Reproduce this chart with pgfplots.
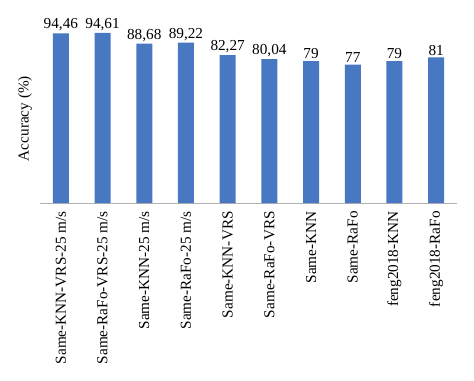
\documentclass[border=0pt]{standalone}
\usepackage{pgfplots}
\pgfplotsset{compat=1.18}
\usepackage{pgfplotstable}
\usepackage{fontspec}
\setmainfont{Liberation Serif}
\definecolor{barblue}{HTML}{4878C2}
\pgfplotstableread{
x y lab
0 94.46 94,46
1 94.61 94,61
2 88.68 88,68
3 89.22 89,22
4 82.27 82,27
5 80.04 80,04
6 79 79
7 77 77
8 79 79
9 81 81
}\datatable
\begin{document}
\begin{tikzpicture}
\begin{axis}[
  at={(0,0)}, anchor=south west,
  scale only axis,
  width=417bp, height=179.7bp,
  xmin=-0.5, xmax=9.5,
  ymin=0, ymax=100,
  axis x line=bottom, axis y line=left,
  x axis line style={draw=black!30, line width=0.8pt, -},
  y axis line style={draw=none},
  ytick=\empty,
  xtick=data,
  xtick style={draw=none},
  xticklabels={Same-KNN-VRS-25 m/s,Same-RaFo-VRS-25 m/s,Same-KNN-25 m/s,Same-RaFo-25 m/s,Same-KNN-VRS,Same-RaFo-VRS,Same-KNN,Same-RaFo,feng2018-KNN,feng2018-RaFo},
  xticklabel style={rotate=90, anchor=east, font=\fontsize{15.3}{17}\selectfont, inner sep=0pt, xshift=-6bp},
  ylabel={Accuracy (\%)},
  ylabel style={at={(axis description cs:-0.036,0.47)}, anchor=center, font=\fontsize{15.3}{17}\selectfont},
  nodes near coords,
  point meta=explicit symbolic,
  every node near coord/.append style={font=\fontsize{15.3}{17}\selectfont, anchor=south, inner sep=2pt},
  clip=false,
]
\addplot[ybar, bar width=16bp, fill=barblue, draw=none] table[x=x, y=y, meta=lab]{\datatable};
\end{axis}
\path[use as bounding box] (-40bp,-178bp) rectangle (434bp,203bp);
\end{tikzpicture}
\end{document}
